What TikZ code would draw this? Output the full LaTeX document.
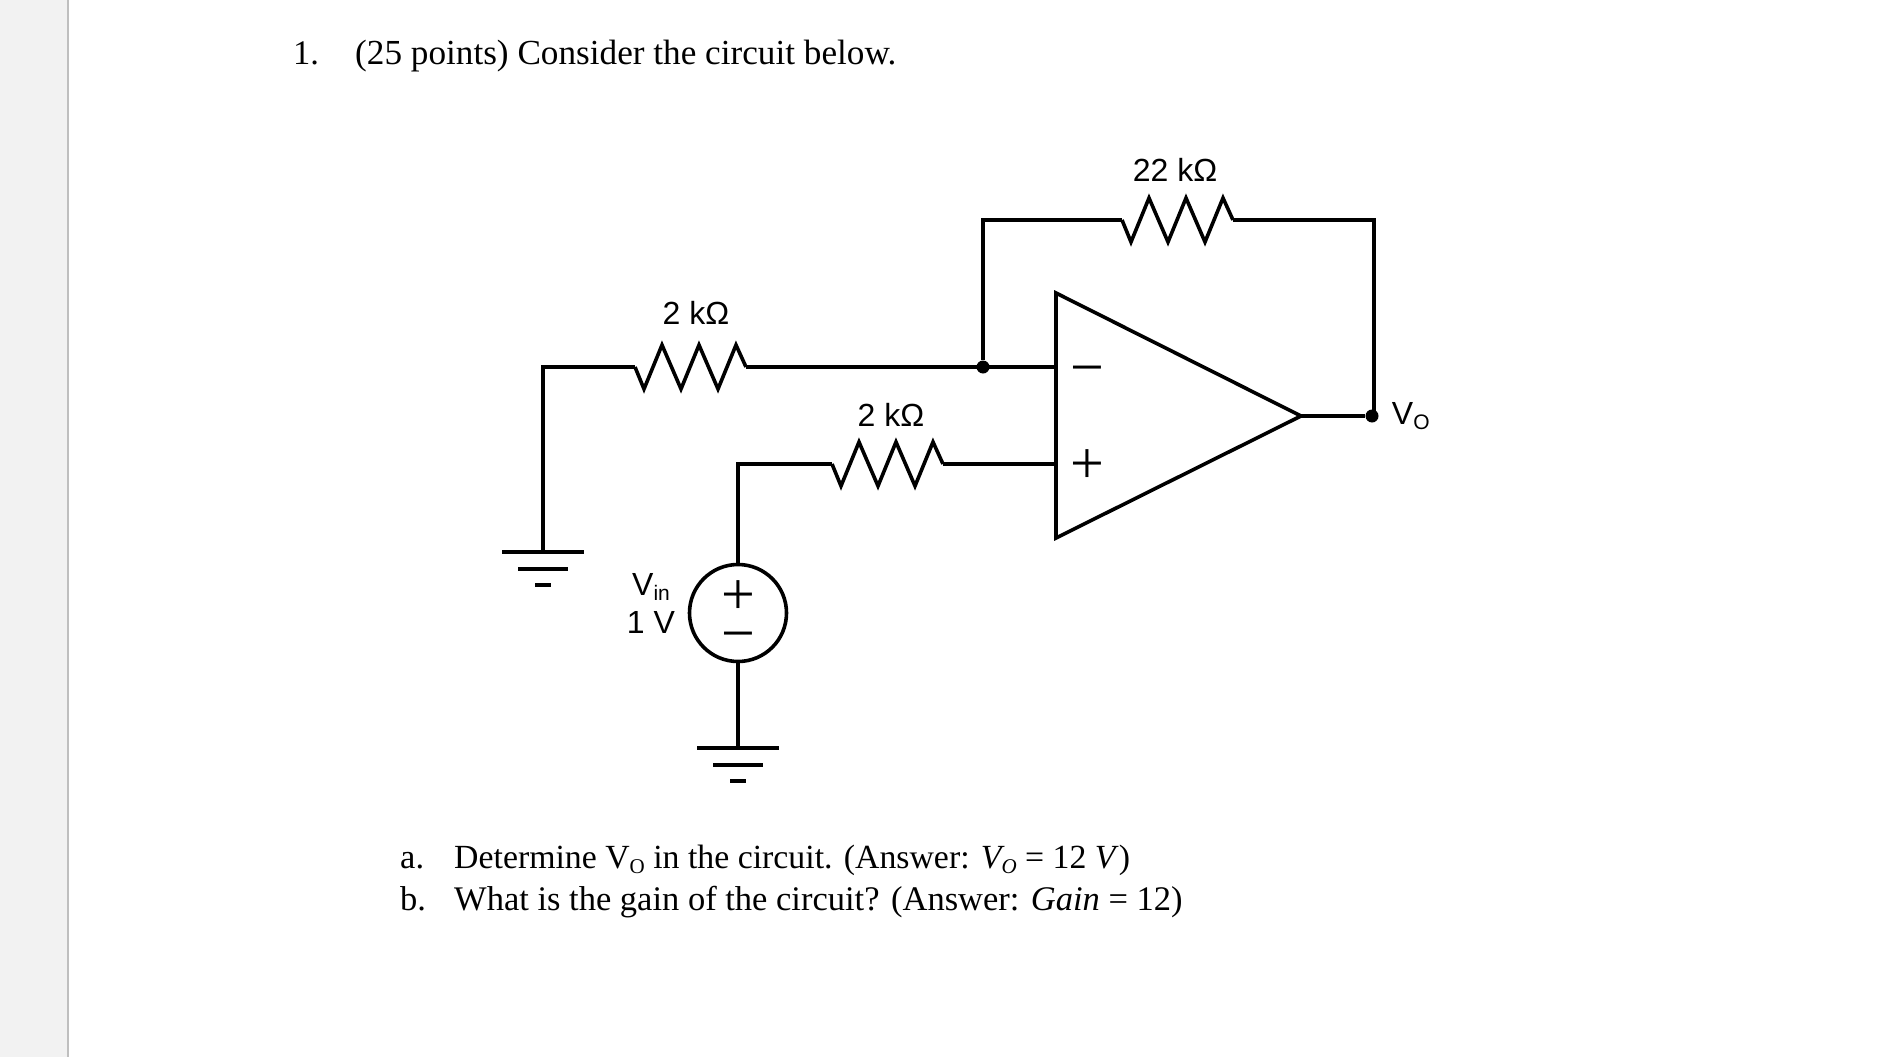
\documentclass[tikz,border=0pt]{standalone}
\usepackage{fontspec}
\setmainfont{Liberation Serif}
\newfontfamily\circfont{Liberation Sans}
\usetikzlibrary{positioning, calc}
\newcommand{\lowsub}[1]{\raisebox{-0.16em}{\fontsize{21}{21}\selectfont #1}}
\tikzset{
  resistor/.pic={\draw[wire] (0,0) -- (9,22) -- (27,-22) -- (46,22) -- (64,-22) -- (83,22) -- (101,-22) -- (111,0);},
  ground/.pic={
    \draw[wire] (-41,0) -- (41,0);
    \draw[wire] (-25,17) -- (25,17);
    \draw[wire] (-8,33) -- (8,33);
  }
}
\begin{document}
\begin{tikzpicture}[x=1pt, y=-1pt,
    wire/.style={line width=3.6pt, line join=miter},
    dot/.style={circle, fill=black, inner sep=0pt, minimum size=13pt},
    lbl/.style={font=\circfont\fontsize{32}{36}\selectfont, inner sep=0pt},
    sign/.style={font=\fontsize{60}{60}\selectfont, inner sep=0pt, text height=28pt, text depth=0pt},
    doc/.style={font=\fontsize{34.5}{40}\selectfont, inner sep=0pt, anchor=base west}]
\useasboundingbox (0,0) rectangle (1885,1057);
% Page
\fill[white] (0,0) rectangle (1885,1057);
\fill[black!5] (0,0) rectangle (68,1057);
\draw[black!25, line width=2pt] (68,0) -- (68,1057);
% Text
\node[doc] (num) at (293,65) {1.};
\node[doc, font=\fontsize{35.2}{40}\selectfont] (head) at (355,65) {(25 points) Consider the circuit below.};
\node[doc] (itemA) at (400,868) {a.};
\node[doc, font=\fontsize{33.8}{40}\selectfont] (askA) at (454,868) {Determine V\lowsub{O} in the circuit. (Answer: \textit{V\lowsub{O}} = 12 \textit{V})};
\node[doc] (itemB) at (400,910) {b.};
\node[doc] (askB) at (454,910) {What is the gain of the circuit? (Answer: \textit{Gain} = 12)};
% Op amp
\coordinate (ampTop) at (1056,293);
\coordinate (ampBot) at (1056,538);
\coordinate (ampTip) at (1301,416);
\coordinate (ampMinus) at (1056,367);
\coordinate (ampPlus) at (1056,464);
\draw[wire] (ampTop) -- (ampTip) -- (ampBot) -- cycle;
\node[sign] (minus) at (1087,373) {−};
\node[sign] (plus) at (1087,469) {+};
% Resistors
\coordinate (RfL) at (1122,220);
\coordinate (RfR) at (1233,220);
\coordinate (RaL) at (635,367);
\coordinate (RaR) at (746,367);
\coordinate (RbL) at (832,464);
\coordinate (RbR) at (943,464);
\pic at (RfL) {resistor};
\pic at (RaL) {resistor};
\pic at (RbL) {resistor};
\node[lbl] (Rflab) at (1175,170) {22 kΩ};
\node[lbl] (Ralab) at (696,313) {2 kΩ};
\node[lbl] (Rblab) at (891,415) {2 kΩ};
% Source
\node[draw, circle, line width=3.6pt, inner sep=0pt, minimum size=97pt] (Vs) at (738,613) {};
\node[sign] (Vsplus) at (738,600) {+};
\node[sign] (Vsminus) at (738,639) {−};
\node[lbl, align=center] (Vinlab) at (651,603) {V\lowsub{in}\\[2pt]1 V};
% Grounds
\coordinate (gndA) at (543,552);
\coordinate (gndB) at (738,748);
\pic at (gndA) {ground};
\pic at (gndB) {ground};
% Junctions
\node[dot] (J) at (983,367) {};
\node[dot] (Out) at (1372,416) {};
\coordinate (fbDrop) at (1374,416);
\node[lbl, right=13pt of Out] (Volab) {V\lowsub{O}};
% Wires
\draw[wire] (gndA) |- (RaL);
\draw[wire] (RaR) -- (ampMinus);
\draw[wire] (J) |- (RfL);
\draw[wire] (RfR) -| (fbDrop);
\draw[wire] (ampTip) -- (Out);
\draw[wire] (Vs) |- (RbL);
\draw[wire] (RbR) -- (ampPlus);
\draw[wire] (Vs) -- (gndB);
\end{tikzpicture}
\end{document}
